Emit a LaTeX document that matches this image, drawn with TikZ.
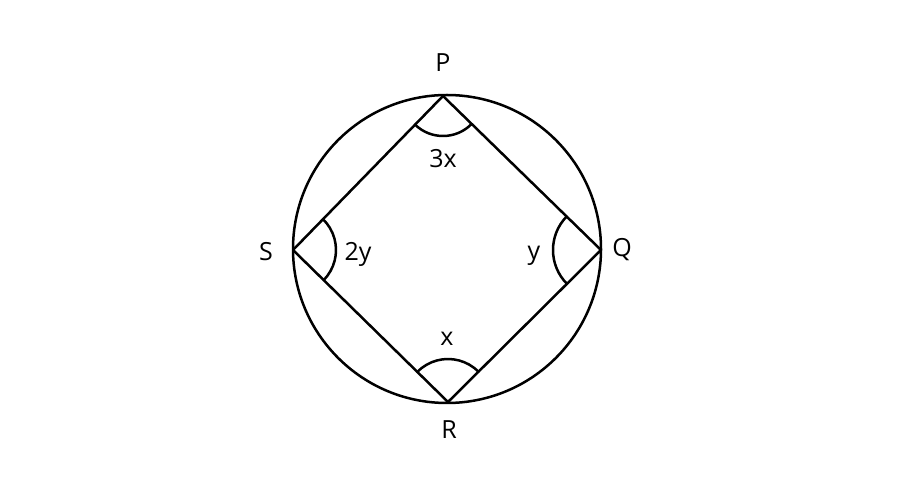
\documentclass[tikz,border=0pt]{standalone}
\usepackage{fontspec}
\setmainfont{Open Sans}
\usepackage{tikz}
\usetikzlibrary{angles}
\usetikzlibrary{positioning}

\tikzset{
    edge/.style={line width=1.25pt, color=black},
    anglearc/.style={draw, line width=1.25pt},
    vertexlabel/.style={font=\fontsize{12.5}{15}\selectfont, inner sep=0pt},
    anglelabel/.style={font=\fontsize{12.5}{15}\selectfont, inner sep=0pt}
}

\begin{document}
\begin{tikzpicture}[x=0.5pt, y=-0.5pt, line cap=round, line join=round]
    % frame
    \useasboundingbox (0,0) rectangle (917,502);

    % circle
    \coordinate (O) at (447,249);
    \draw[edge] (O) circle (77pt);

    % vertices
    \coordinate (P) at (443,96);
    \coordinate (Q) at (601,250);
    \coordinate (R) at (448,402);
    \coordinate (S) at (293,250);

    % quadrilateral
    \draw[edge] (P) -- (Q) -- (R) -- (S) -- cycle;

    % angles
    \path (P) pic[anglearc, angle radius=20pt] {angle=S--P--Q};
    \path (Q) pic[anglearc, angle radius=24pt] {angle=P--Q--R};
    \path (R) pic[anglearc, angle radius=21.5pt] {angle=Q--R--S};
    \path (S) pic[anglearc, angle radius=21.5pt] {angle=R--S--P};

    % vertex labels
    \node[vertexlabel] (labP) at (443,63) {P};
    \node[vertexlabel] (labQ) at (622,250) {Q};
    \node[vertexlabel] (labR) at (449,430) {R};
    \node[vertexlabel] (labS) at (266,252) {S};

    % angle labels
    \node[anglelabel] (ang3x) at (443,159) {3x};
    \node[anglelabel] (angx) at (447,339) {x};
    \node[anglelabel] (ang2y) at (358,254) {2y};
    \node[anglelabel] (angy) at (534,256) {y};

\end{tikzpicture}
\end{document}
